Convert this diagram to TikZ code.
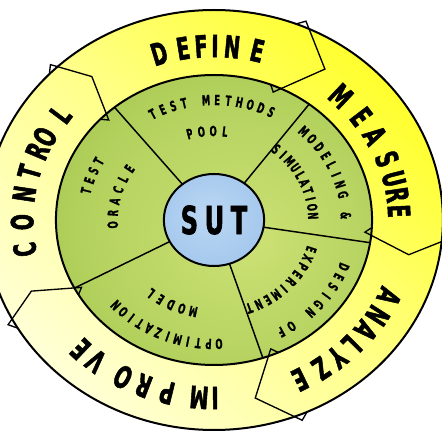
\documentclass[tikz,border=0pt]{standalone}
\usepackage{fontspec}
\newfontfamily\ringfont[FakeStretch=0.62, FakeBold=1.6]{DejaVu Sans Bold}
\newfontfamily\sectorfont[FakeStretch=0.6, FakeBold=1]{DejaVu Sans Bold}
\definecolor{ringhi}{HTML}{FFFF2E}
\definecolor{ringmd}{HTML}{FFFF8C}
\definecolor{ringlo}{HTML}{FFFFD6}
\definecolor{greenlt}{HTML}{CCE174}
\definecolor{greendk}{HTML}{8CB83A}
\definecolor{sutlt}{HTML}{BCD8F4}
\definecolor{sutdk}{HTML}{5A94D4}
\pgfdeclareradialshading{greendisk}{\pgfpoint{6bp}{-4bp}}{color(0bp)=(greenlt); color(22bp)=(greenlt!65!greendk); color(50bp)=(greendk)}
\pgfdeclareradialshading{sutball}{\pgfpoint{-3bp}{3bp}}{color(0bp)=(sutlt); color(28bp)=(sutlt!75!sutdk); color(50bp)=(sutdk)}
\tikzset{
  ringletter/.style={font=\ringfont\fontsize{23}{23}\selectfont, inner sep=0pt},
  sectorletter/.style={font=\sectorfont\fontsize{10.5}{10.5}\selectfont, inner sep=0pt},
  chevron/.style={line width=1pt, line join=miter},
}
\begin{document}
\begin{tikzpicture}[x=0.75pt,y=0.75pt]
  \clip (-214,-222) rectangle (228,220);
  \begin{scope}[xscale=1.09]
    % Anillo amarillo
    \path[top color=ringhi, bottom color=ringlo, middle color=ringmd, shading angle=-45] (0,0) circle (210);
    % Disco verde
    \draw[line width=1.5pt, shade, shading=greendisk] (0,0) circle (145);
    % Sectores
    \foreach \a in {129,53,-9,-72,208}
      \draw[line width=1.1pt] (\a:46) -- (\a:145);
    % SUT
    \draw[line width=1.5pt, shade, shading=sutball] (0,0) circle (46);
    \node[font=\ringfont\fontsize{29}{29}\selectfont, inner sep=0pt] (sut) at (0,0) {S\hspace{5pt}U\hspace{5pt}T};
    % Flechas
    \foreach \b/\t in {67/56, -5/-11, -68/-78, 209/203, 134/128}
      \draw[chevron] ({\b+2}:210) -- (\b:216) -- (\t:182) -- (\b:139) -- ({\b+2}:145);
    \draw[line width=1.5pt] (0,0) circle (210);

    % Textos del anillo
    \foreach \a/\ch [count=\i] in {106.8/D,99.4/E,93.9/F,89.7/I,84.5/N,76.8/E}
      \node[ringletter, rotate=\a-90] (def\i) at (\a:174) {\ch};
    \foreach \a/\ch [count=\i] in {46.8/M,37.4/E,29.8/A,21/S,14/U,8.5/R,3/E}
      \node[ringletter, rotate=\a-90] (mea\i) at (\a:170) {\ch};
    \foreach \a/\ch [count=\i] in {-25.5/A,-32.5/N,-38.5/A,-44.7/L,-50.5/Y,-56.5/Z,-63.7/E}
      \node[ringletter, rotate=\a-90] (ana\i) at (\a:178) {\ch};
    \foreach \a/\ch [count=\i] in {270.3/I,265.6/M,256/P,248.7/R,242/O,232.5/V,226.5/E}
      \node[ringletter, rotate=\a-90] (imp\i) at (\a:178) {\ch};
    \foreach \a/\ch [count=\i] in {189.7/C,180.7/O,171.5/N,164.2/T,157/R,151.8/O,143.1/L}
      \node[ringletter, rotate=\a-90] (con\i) at (\a:176) {\ch};

    % Textos de los sectores
    \foreach \ch [count=\i] in {T,E,S,T,{},M,E,T,H,O,D,S}
      \node[sectorletter, rotate={28-(\i-1)*4.9}] (tm\i) at ({118-(\i-1)*4.9}:120) {\ch};
    \foreach \ch [count=\i] in {P,O,O,L}
      \node[sectorletter, rotate={14.5-(\i-1)*7}] (pool\i) at ({104.5-(\i-1)*7}:89) {\ch};
    \foreach \ch [count=\i] in {M,O,D,E,L,I,N,G,{},\&}
      \node[sectorletter, rotate={-42.9-(\i-1)*5}] (mod\i) at ({47.1-(\i-1)*5}:121) {\ch};
    \foreach \ch [count=\i] in {S,I,M,U,L,A,T,I,O,N}
      \node[sectorletter, rotate={-38.8-(\i-1)*5.4}] (sim\i) at ({51.2-(\i-1)*5.4}:91) {\ch};
    \foreach \ch [count=\i] in {D,E,S,I,G,N,{},O,F}
      \node[sectorletter, rotate={-111.5-(\i-1)*4.96}] (des\i) at ({-21.5-(\i-1)*4.96}:128) {\ch};
    \foreach \ch [count=\i] in {E,X,P,E,R,I,M,E,N,T}
      \node[sectorletter, rotate={-108.3-(\i-1)*5.72}] (exp\i) at ({-18.3-(\i-1)*5.72}:94) {\ch};
    \foreach \ch [count=\i] in {O,P,T,I,M,I,Z,A,T,I,O,N}
      \node[sectorletter, rotate={182.1-(\i-1)*4.43}] (opt\i) at ({272.1-(\i-1)*4.43}:124) {\ch};
    \foreach \ch [count=\i] in {M,O,D,E,L}
      \node[sectorletter, rotate={168.2-(\i-1)*6.65}] (mdl\i) at ({258.2-(\i-1)*6.65}:93.5) {\ch};
    \foreach \ch [count=\i] in {T,E,S,T}
      \node[sectorletter, rotate={76-(\i-1)*5}] (tst\i) at ({166-(\i-1)*5}:121) {\ch};
    \foreach \ch [count=\i] in {O,R,A,C,L,E}
      \node[sectorletter, rotate={93-(\i-1)*7.3}] (ora\i) at ({183-(\i-1)*7.3}:93) {\ch};
  \end{scope}
\end{tikzpicture}
\end{document}
